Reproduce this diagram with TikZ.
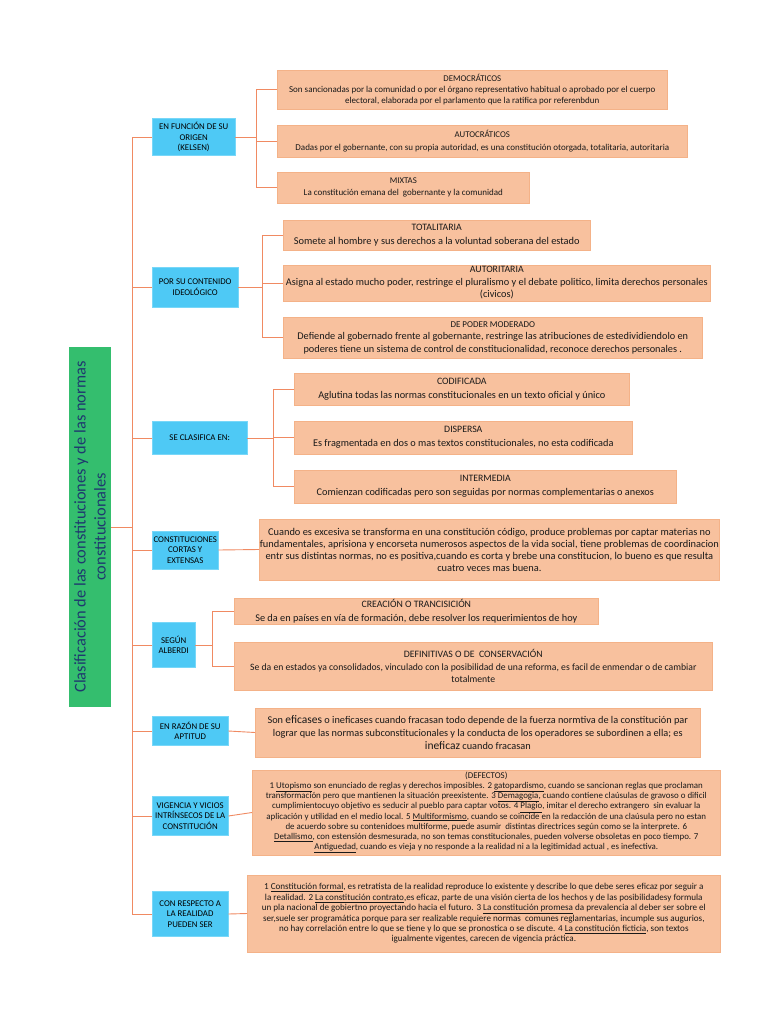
\documentclass[tikz,border=0pt]{standalone}
\usepackage{fontspec}
\setmainfont{Carlito}
\definecolor{catblue}{RGB}{78,201,245}
\definecolor{catborder}{RGB}{120,215,248}
\definecolor{descfill}{RGB}{248,193,158}
\definecolor{descborder}{RGB}{244,178,136}
\definecolor{linkcol}{RGB}{240,138,98}
\definecolor{titlegreen}{RGB}{52,190,110}
\definecolor{titletext}{RGB}{31,56,110}
\newcommand\hdr[2]{{\fontsize{#1}{#1}\selectfont #2}}
\newcommand\fs[2]{\fontsize{#1}{#2}\selectfont}
\begin{document}
\begin{tikzpicture}[x=1pt,y=-1pt,
  cat/.style={fill=catblue, draw=catborder, line width=0.4pt, align=center, anchor=west, inner sep=0.5pt, font=\fs{8.8}{10.5}, text=black},
  desc/.style={fill=descfill, draw=descborder, line width=0.6pt, align=center, anchor=west, inner sep=0.5pt, text=black!90},
  link/.style={draw=linkcol, line width=0.9pt}]
\useasboundingbox (0,0) rectangle (768,1024);
\fill[white] (0,0) rectangle (768,1024);

% title
\node[fill=titlegreen, rotate=90, minimum width=360, minimum height=42, inner sep=1pt, align=center, text=titletext, font=\fs{16.4}{20}] (title) at (90,527) {Clasificación de las constituciones y de las normas\\constitucionales};

% categories
\node[cat, minimum width=83, minimum height=37] (c1) at (152,137) {EN FUNCIÓN DE SU\\ORIGEN\\(KELSEN)};
\node[cat, minimum width=86, minimum height=40] (c2) at (152,287) {POR SU CONTENIDO\\IDEOLÓGICO};
\node[cat, minimum width=95, minimum height=33] (c3) at (152,438) {SE CLASIFICA EN:};
\node[cat, minimum width=66, minimum height=38] (c4) at (152,550) {CONSTITUCIONES\\CORTAS Y\\EXTENSAS};
\node[cat, minimum width=43, minimum height=45] (c5) at (152,645) {SEGÚN\\ALBERDI};
\node[cat, minimum width=76, minimum height=29] (c6) at (152,731) {EN RAZÓN DE SU\\APTITUD};
\node[cat, minimum width=76, minimum height=39] (c7) at (152,816) {VIGENCIA Y VICIOS\\INTRÍNSECOS DE LA\\CONSTITUCIÓN};
\node[cat, minimum width=76, minimum height=45] (c8) at (152,914) {CON RESPECTO A\\LA REALIDAD\\PUEDEN SER};

% group 1
\node[desc, minimum width=390, minimum height=39, font=\fs{9}{11.3}] (d11) at (277,89.5) {\hdr{8.8}{DEMOCRÁTICOS}\\Son sancionadas por la comunidad o por el órgano representativo habitual o aprobado por el cuerpo\\electoral, elaborada por el parlamento que la ratifica por referenbdun};
\node[desc, minimum width=410, minimum height=32, font=\fs{9}{12.5}] (d12) at (277,141) {\hdr{8.8}{AUTOCRÁTICOS}\\Dadas por el gobernante, con su propia autoridad, es una constitución otorgada, totalitaria, autoritaria};
\node[desc, minimum width=252, minimum height=31, font=\fs{9}{11.5}] (d13) at (277,187.5) {\hdr{8.8}{MIXTAS}\\La constitución emana del\ \ gobernante y la comunidad};

% group 2
\node[desc, minimum width=307, minimum height=30, font=\fs{10.4}{13.5}] (d21) at (283,235) {\hdr{9.8}{TOTALITARIA}\\Somete al hombre y sus derechos a la voluntad soberana del estado};
\node[desc, minimum width=427, minimum height=36, font=\fs{10.3}{12.5}] (d22) at (283,283) {\hdr{9.8}{AUTORITARIA}\\Asigna al estado mucho poder, restringe el pluralismo y el debate politico, limita derechos personales\\(civicos)};
\node[desc, minimum width=419, minimum height=41, font=\fs{10.3}{12.5}] (d23) at (283,337.5) {\hdr{9}{DE PODER MODERADO}\\Defiende al gobernado frente al gobernante, restringe las atribuciones de estedividiendolo en\\poderes tiene un sistema de control de constitucionalidad, reconoce derechos personales .};

% group 3
\node[desc, minimum width=335, minimum height=32, font=\fs{10.3}{14}] (d31) at (294,389) {\hdr{9.8}{CODIFICADA}\\Aglutina todas las normas constitucionales en un texto oficial y único};
\node[desc, minimum width=338, minimum height=33, font=\fs{10.3}{14}] (d32) at (294,437.5) {\hdr{9.8}{DISPERSA}\\Es fragmentada en dos o mas textos constitucionales, no esta codificada};
\node[desc, minimum width=382, minimum height=33, font=\fs{10.3}{14}] (d33) at (294,486.5) {\hdr{9.8}{INTERMEDIA}\\Comienzan codificadas pero son seguidas por normas complementarias o anexos};

% group 4
\node[desc, minimum width=459, minimum height=61, font=\fs{10.4}{12}] (d4) at (259,549.5) {Cuando es excesiva se transforma en una constitución código, produce problemas por captar materias no\\fundamentales, aprisiona y encorseta numerosos aspectos de la vida social, tiene problemas de coordinacion\\entr sus distintas normas, no es positiva,cuando es corta y brebe una constitucion, lo bueno es que resulta\\cuatro veces mas buena.};

% group 5
\node[desc, minimum width=364, minimum height=26, font=\fs{10.3}{13.5}] (d51) at (234,611) {\hdr{9.8}{CREACIÓN O TRANCISICIÓN}\\Se da en países en vía de formación, debe resolver los requerimientos de hoy};
\node[desc, minimum width=478, minimum height=48, font=\fs{9.7}{12}] (d52) at (234,666) {\hdr{9.8}{DEFINITIVAS O DE\ \ CONSERVACIÓN}\\[1.5pt]Se da en estados ya consolidados, vinculado con la posibilidad de una reforma, es facil de enmendar o de cambiar\\totalmente};

% group 6
\node[desc, minimum width=445, minimum height=49, font=\fs{10.3}{12.6}] (d6) at (255,732.5) {Son {\fontsize{11.5}{12}\selectfont eficases} o ineficases cuando fracasan todo depende de la fuerza normtiva de la constitución par\\lograr que las normas subconstitucionales y la conducta de los operadores se subordinen a ella; es\\{\fontsize{11.5}{12}\selectfont ineficaz} cuando fracasan};

% group 7
\node[desc, minimum width=468, minimum height=85, font=\fs{8.9}{10.2}] (d7) at (252,812.5) {(DEFECTOS)\\1 \underline{Utopismo} son enunciado de reglas y derechos imposibles. 2 \underline{gatopardismo}, cuando se sancionan reglas que proclaman\\transformación pero que mantienen la situación preexistente. 3 \underline{Demagogia}, cuando contiene claúsulas de gravoso o dificil\\cumplimientocuyo objetivo es seducir al pueblo para captar votos. 4 \underline{Plagio}, imitar el derecho extrangero\ \ sin evaluar la\\aplicación y utilidad en el medio local. 5 \underline{Multiformismo}, cuando se coincide en la redacción de una claúsula pero no estan\\de acuerdo sobre su contenidoes multiforme, puede asumir\ \ distintas directrices según como se la interprete. 6\\\underline{Detallismo}, con estensión desmesurada, no son temas constitucionales, pueden volverse obsoletas en poco tiempo. 7\\\underline{Antiguedad}, cuando es vieja y no responde a la realidad ni a la legitimidad actual , es inefectiva.};

% group 8
\node[desc, minimum width=473, minimum height=77, font=\fs{9.1}{10.4}] (d8) at (247,913.5) {1 \underline{Constitución formal}, es retratista de la realidad reproduce lo existente y describe lo que debe seres eficaz por seguir a\\la realidad. 2 \underline{La constitución contrato},es eficaz, parte de una visión cierta de los hechos y de las posibilidadesy formula\\un pla nacional de gobiertno proyectando hacia el futuro. 3 \underline{La constitución promesa} da prevalencia al deber ser sobre el\\ser,suele ser programática porque para ser realizable requiere normas\ \ comunes reglamentarias, incumple sus augurios,\\no hay correlación entre lo que se tiene y lo que se pronostica o se discute. 4 \underline{La constitución ficticia}, son textos\\igualmente vigentes, carecen de vigencia práctica.};

% main connectors
\foreach \c in {c1,c2,c3,c4,c5,c6,c7,c8}
  \draw[link] (title.south) -- ++(21,0) |- (\c.west);

\foreach \d in {d11,d12,d13} \draw[link] (c1.east) -- ++(21,0) |- (\d.west);
\foreach \d in {d21,d22,d23} \draw[link] (c2.east) -- ++(24,0) |- (\d.west);
\foreach \d in {d31,d32,d33} \draw[link] (c3.east) -- ++(26,0) |- (\d.west);
\draw[link] (c4.east) -- (d4.west);
\foreach \d in {d51,d52} \draw[link] (c5.east) -- ++(17,0) |- (\d.west);
\draw[link] (c6.east) -- (d6.west);
\draw[link] (c7.east) -- (d7.west);
\draw[link] (c8.east) -- (d8.west);
\end{tikzpicture}
\end{document}
